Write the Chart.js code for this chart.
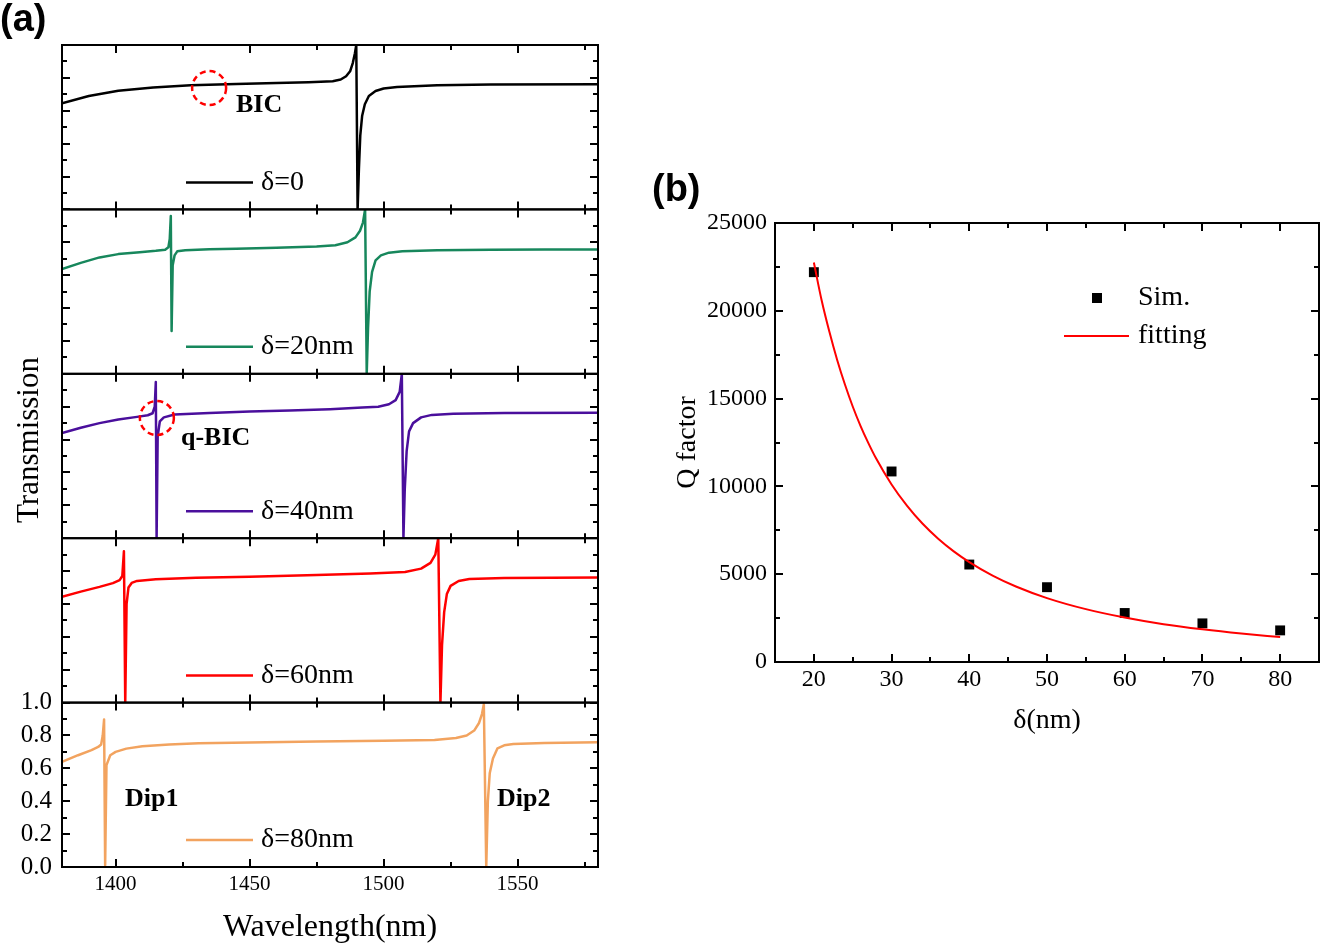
<!DOCTYPE html>
<html>
<head>
<meta charset="utf-8">
<script src="https://cdn.jsdelivr.net/npm/chart.js@4.4.1/dist/chart.umd.min.js"></script>
<style>
  body { margin: 0; background: #fff; width: 1326px; height: 951px; overflow: hidden; position: relative; }
  #wrapA { position: absolute; left: 0; top: 0; width: 640px; height: 951px; }
  #wrapB { position: absolute; left: 640px; top: 0; width: 686px; height: 951px; }
  .tag { position: absolute; font: bold 38px 'Liberation Sans', Arial, sans-serif; line-height: 1; color: #000; }
</style>
</head>
<body>
<div id="wrapA"><canvas id="chartA" width="640" height="951"></canvas></div>
<div id="wrapB"><canvas id="chartB" width="686" height="951"></canvas></div>
<div class="tag" style="left:0; top:-1px">(a)</div>
<div class="tag" style="left:652px; top:169px">(b)</div>
<script>
// ---- panel (a): transmission spectra ----
const wlTicks = [1400, 1450, 1500, 1550];
const trTicks = [0, 0.2, 0.4, 0.6, 0.8, 1.0];
const seriesLabels = ['δ=0', 'δ=20nm', 'δ=40nm', 'δ=60nm', 'δ=80nm'];

const wl0 = [1380, 1390, 1401, 1414, 1428, 1445, 1460, 1472, 1481, 1484, 1486, 1487.5, 1488.5, 1489.3, 1489.8, 1490.3, 1490.8, 1491.3, 1492, 1493, 1494.5, 1497, 1500, 1505, 1520, 1540, 1580];
const tr0 = [0.645, 0.69, 0.722, 0.742, 0.755, 0.763, 0.769, 0.774, 0.78, 0.79, 0.81, 0.84, 0.89, 0.95, 1.0, 0.0, 0.25, 0.45, 0.57, 0.64, 0.69, 0.72, 0.735, 0.745, 0.755, 0.76, 0.762];

const wl20 = [1380, 1387, 1394, 1401, 1409, 1415, 1418.5, 1419.7, 1420.2, 1420.6, 1420.9, 1421.3, 1422, 1423, 1426, 1435, 1445, 1460, 1475, 1482, 1486.5, 1489.5, 1491.2, 1492.3, 1493.1, 1493.7, 1494.2, 1494.8, 1495.7, 1497, 1499, 1502, 1507, 1520, 1540, 1560, 1580];
const tr20 = [0.637, 0.675, 0.708, 0.728, 0.74, 0.748, 0.755, 0.77, 0.82, 0.96, 0.26, 0.66, 0.72, 0.745, 0.752, 0.757, 0.76, 0.766, 0.774, 0.782, 0.8, 0.83, 0.87, 0.92, 1.0, 0.0, 0.28, 0.5, 0.62, 0.69, 0.72, 0.737, 0.746, 0.752, 0.755, 0.756, 0.756];

const wl40 = [1380, 1387, 1394, 1401, 1408, 1412, 1413.8, 1414.6, 1415.0, 1415.3, 1415.7, 1416.5, 1418, 1422, 1435, 1450, 1465, 1480, 1492, 1498, 1502, 1504.5, 1506, 1506.8, 1507.4, 1507.9, 1508.6, 1509.5, 1511, 1514, 1518, 1526, 1545, 1580];
const tr40 = [0.639, 0.672, 0.7, 0.722, 0.738, 0.748, 0.76, 0.8, 0.95, 0.0, 0.62, 0.71, 0.735, 0.752, 0.762, 0.77, 0.777, 0.785, 0.795, 0.8, 0.815, 0.84, 0.89, 1.0, 0.0, 0.3, 0.53, 0.65, 0.7, 0.735, 0.75, 0.757, 0.762, 0.763];

const wl60 = [1380, 1387, 1394, 1399, 1401.5, 1402.5, 1403.1, 1403.6, 1404.1, 1404.8, 1406, 1408, 1415, 1430, 1450, 1475, 1495, 1508, 1514, 1517.5, 1519.3, 1520.4, 1521.2, 1521.8, 1522.6, 1523.6, 1525, 1528, 1532, 1545, 1580];
const tr60 = [0.643, 0.675, 0.704, 0.727, 0.745, 0.77, 0.92, 0.0, 0.6, 0.7, 0.728, 0.74, 0.75, 0.759, 0.766, 0.776, 0.785, 0.795, 0.815, 0.85, 0.9, 1.0, 0.0, 0.35, 0.55, 0.66, 0.71, 0.74, 0.752, 0.758, 0.761];

const wl80 = [1380, 1386, 1391, 1393.5, 1394.6, 1395.2, 1395.7, 1396.1, 1396.6, 1398, 1400, 1404, 1410, 1420, 1431, 1450, 1475, 1500, 1519, 1527, 1531, 1533.8, 1535.6, 1536.7, 1537.4, 1538.3, 1538.9, 1539.6, 1540.8, 1542.5, 1545, 1548.4, 1560, 1580];
const tr80 = [0.639, 0.68, 0.711, 0.73, 0.745, 0.8, 0.897, 0.01, 0.62, 0.68, 0.7, 0.72, 0.735, 0.745, 0.753, 0.758, 0.763, 0.768, 0.773, 0.785, 0.8, 0.83, 0.876, 0.93, 0.99, 0.0, 0.4, 0.57, 0.66, 0.722, 0.74, 0.748, 0.755, 0.759];

// text notes and dashed rings, in data units of the subplot they sit in
const notes = [
  { axis: 'y0', x: 1444.9, y: 0.635, text: 'BIC' },
  { axis: 'y40', x: 1424.4, y: 0.61, text: 'q-BIC' },
  { axis: 'y80', x: 1403.5, y: 0.41, text: 'Dip1' },
  { axis: 'y80', x: 1542.3, y: 0.41, text: 'Dip2' }
];
const rings = [
  { axis: 'y0', x: 1434.9, y: 0.738 },
  { axis: 'y40', x: 1415.4, y: 0.731 }
];

// ---- panel (b): Q factor ----
const deltaNm = [20, 30, 40, 50, 60, 70, 80];
const qSim = [22200, 10850, 5550, 4260, 2790, 2200, 1800];
const fitDelta = [20, 21, 22, 23, 24, 25, 26, 27, 28, 30, 32, 34, 36, 38, 40, 43, 46, 50, 55, 60, 65, 70, 75, 80];
const qFit = [22750, 20600, 18800, 17200, 15800, 14550, 13450, 12480, 11600, 10110, 8890, 7870, 7020, 6300, 5690, 4920, 4300, 3640, 3010, 2530, 2150, 1860, 1620, 1420];
const deltaTicks = [20, 30, 40, 50, 60, 70, 80];
const qTicks = [0, 5000, 10000, 15000, 20000, 25000];
const bLegend = ['Sim.', 'fitting'];

const SERIF = "'Liberation Serif', 'Times New Roman', serif";
Chart.defaults.font.family = SERIF;
Chart.defaults.color = '#000';
Chart.defaults.animation = false;

const colorsA = ['#000000', '#17875c', '#4a0f9c', '#ff0000', '#f2a35f'];
const yIds = ['y0', 'y20', 'y40', 'y60', 'y80'];
const curves = [[wl0, tr0], [wl20, tr20], [wl40, tr40], [wl60, tr60], [wl80, tr80]];

const onStep = (v, step) => Math.abs(v / step - Math.round(v / step)) < 1e-6;

// Origin-style box with inward ticks on all four sides
const originFrame = {
  id: 'originFrame',
  afterDatasetsDraw(chart, args, o) {
    const { ctx, chartArea: a } = chart;
    const xs = chart.scales.x;
    ctx.save();
    ctx.strokeStyle = '#000';
    ctx.lineWidth = o.lineWidth;
    o.yIds.forEach((id) => {
      const ys = chart.scales[id];
      const top = ys.top, bottom = ys.bottom;
      ctx.beginPath();
      for (let k = Math.ceil(xs.min / o.xStep); k * o.xStep <= xs.max + 1e-9; k++) {
        const v = k * o.xStep;
        const px = Math.round(xs.getPixelForValue(v));
        const len = onStep(v, o.xMajor) ? o.major : o.minor;
        ctx.moveTo(px, bottom); ctx.lineTo(px, bottom - len);
        ctx.moveTo(px, top); ctx.lineTo(px, top + len);
      }
      for (let k = Math.ceil(ys.min / o.yStep); k * o.yStep <= ys.max + 1e-9; k++) {
        const v = k * o.yStep;
        const py = Math.round(ys.getPixelForValue(v));
        const len = onStep(v, o.yMajor) ? o.major : o.minor;
        ctx.moveTo(a.left, py); ctx.lineTo(a.left + len, py);
        ctx.moveTo(a.right, py); ctx.lineTo(a.right - len, py);
      }
      ctx.stroke();
      ctx.strokeRect(a.left, top, a.right - a.left, bottom - top);
    });
    ctx.restore();
  }
};

// legends, notes, rings and the shared y title of panel (a)
const panelA = {
  id: 'panelA',
  afterDraw(chart) {
    const { ctx, chartArea: a } = chart;
    const xs = chart.scales.x;
    ctx.save();
    chart.data.datasets.forEach((ds, i) => {
      const ys = chart.scales[yIds[i]];
      const y = ys.bottom - 27;
      ctx.strokeStyle = ds.borderColor;
      ctx.lineWidth = 2.5;
      ctx.beginPath();
      ctx.moveTo(a.left + 124, y); ctx.lineTo(a.left + 191, y);
      ctx.stroke();
      ctx.fillStyle = '#000';
      ctx.font = '28px ' + SERIF;
      ctx.textBaseline = 'middle';
      ctx.textAlign = 'left';
      ctx.fillText(ds.label, a.left + 199, y);
    });
    ctx.font = 'bold 26px ' + SERIF;
    ctx.textBaseline = 'middle';
    notes.forEach((n) => {
      ctx.fillText(n.text, xs.getPixelForValue(n.x), chart.scales[n.axis].getPixelForValue(n.y));
    });
    ctx.strokeStyle = '#ff0000';
    ctx.lineWidth = 2.5;
    ctx.setLineDash([6, 4]);
    rings.forEach((r) => {
      ctx.beginPath();
      ctx.arc(xs.getPixelForValue(r.x), chart.scales[r.axis].getPixelForValue(r.y), 17, 0, Math.PI * 2);
      ctx.stroke();
    });
    ctx.setLineDash([]);
    ctx.translate(30, 440);
    ctx.rotate(-Math.PI / 2);
    ctx.textAlign = 'center';
    ctx.font = '31px ' + SERIF;
    ctx.fillText('Transmission', 0, 0);
    ctx.restore();
  }
};

const scalesA = {
  x: {
    type: 'linear', position: 'bottom', min: 1380, max: 1580,
    afterBuildTicks: (s) => { s.ticks = wlTicks.map((v) => ({ value: v })); },
    afterFit: (s) => { s.height = 84; },
    grid: { display: false, drawTicks: false },
    border: { display: false },
    ticks: { font: { family: SERIF, size: 21 }, padding: 5, maxRotation: 0, autoSkip: false, callback: (v) => String(v) },
    title: { display: true, text: 'Wavelength(nm)', font: { family: SERIF, size: 32 }, padding: { top: 0, bottom: 4 } }
  }
};
// left boxes sharing a stack are laid out last-defined first, so add them bottom-up
[...yIds].reverse().forEach((id) => {
  scalesA[id] = {
    type: 'linear', position: 'left', stack: 'T', stackWeight: 1, min: 0, max: 1,
    afterBuildTicks: (s) => { s.ticks = trTicks.map((v) => ({ value: v })); },
    afterFit: (s) => { s.width = 62; },
    grid: { display: false, drawTicks: false },
    border: { display: false },
    ticks: { display: id === 'y80', autoSkip: false, font: { family: SERIF, size: 25 }, padding: 10, callback: (v) => Number(v).toFixed(1) }
  };
});

new Chart(document.getElementById('chartA'), {
  type: 'line',
  data: {
    datasets: curves.map(([xv, yv], i) => ({
      label: seriesLabels[i],
      data: xv.map((x, j) => ({ x, y: yv[j] })),
      yAxisID: yIds[i],
      borderColor: colorsA[i],
      borderWidth: 2.5,
      borderJoinStyle: 'round',
      pointRadius: 0,
      tension: 0
    }))
  },
  options: {
    responsive: false,
    devicePixelRatio: 1,
    layout: { padding: { left: 0, right: 42, top: 45, bottom: 0 } },
    scales: scalesA,
    plugins: {
      legend: { display: false },
      tooltip: { enabled: false },
      originFrame: { yIds, xStep: 25, xMajor: 50, yStep: 0.1, yMajor: 0.2, major: 8, minor: 5, lineWidth: 2 }
    }
  },
  plugins: [originFrame, panelA]
});

// legend and y title of panel (b)
const panelB = {
  id: 'panelB',
  afterDraw(chart) {
    const { ctx, chartArea: a } = chart;
    const [sim, fit] = chart.data.datasets;
    ctx.save();
    ctx.fillStyle = sim.backgroundColor;
    ctx.fillRect(a.left + 317, a.top + 70, 10, 10);
    ctx.strokeStyle = fit.borderColor;
    ctx.lineWidth = 2;
    ctx.beginPath();
    ctx.moveTo(a.left + 289, a.top + 113); ctx.lineTo(a.left + 354, a.top + 113);
    ctx.stroke();
    ctx.fillStyle = '#000';
    ctx.font = '28px ' + SERIF;
    ctx.textBaseline = 'middle';
    ctx.fillText(sim.label, a.left + 363, a.top + 75);
    ctx.fillText(fit.label, a.left + 363, a.top + 113);
    ctx.translate(48, (a.top + a.bottom) / 2);
    ctx.rotate(-Math.PI / 2);
    ctx.textAlign = 'center';
    ctx.fillText('Q factor', 0, 0);
    ctx.restore();
  }
};

new Chart(document.getElementById('chartB'), {
  type: 'line',
  data: {
    datasets: [
      {
        label: bLegend[0],
        data: deltaNm.map((x, i) => ({ x, y: qSim[i] })),
        showLine: false,
        pointStyle: 'rect',
        pointRadius: 7,
        backgroundColor: '#000',
        borderColor: '#000',
        borderWidth: 0,
        order: 1
      },
      {
        label: bLegend[1],
        data: fitDelta.map((x, i) => ({ x, y: qFit[i] })),
        borderColor: '#ff0000',
        borderWidth: 2,
        pointRadius: 0,
        cubicInterpolationMode: 'monotone',
        order: 0
      }
    ]
  },
  options: {
    responsive: false,
    devicePixelRatio: 1,
    layout: { padding: { left: 0, right: 6, top: 223, bottom: 209 } },
    scales: {
      x: {
        type: 'linear', min: 15, max: 85,
        afterBuildTicks: (s) => { s.ticks = deltaTicks.map((v) => ({ value: v })); },
        afterFit: (s) => { s.height = 80; },
        grid: { display: false, drawTicks: false },
        border: { display: false },
        ticks: { font: { family: SERIF, size: 24 }, padding: 3, maxRotation: 0, autoSkip: false, callback: (v) => String(v) },
        title: { display: true, text: 'δ(nm)', font: { family: SERIF, size: 28 }, padding: { top: 0, bottom: 5 } }
      },
      y: {
        type: 'linear', min: 0, max: 25000,
        afterBuildTicks: (s) => { s.ticks = qTicks.map((v) => ({ value: v })); },
        afterFit: (s) => { s.width = 135; },
        grid: { display: false, drawTicks: false },
        border: { display: false },
        ticks: { font: { family: SERIF, size: 24 }, padding: 8, autoSkip: false, callback: (v) => String(v) }
      }
    },
    plugins: {
      legend: { display: false },
      tooltip: { enabled: false },
      originFrame: { yIds: ['y'], xStep: 5, xMajor: 10, yStep: 2500, yMajor: 5000, major: 8, minor: 5, lineWidth: 2 }
    }
  },
  plugins: [originFrame, panelB]
});
</script>
</body>
</html>
